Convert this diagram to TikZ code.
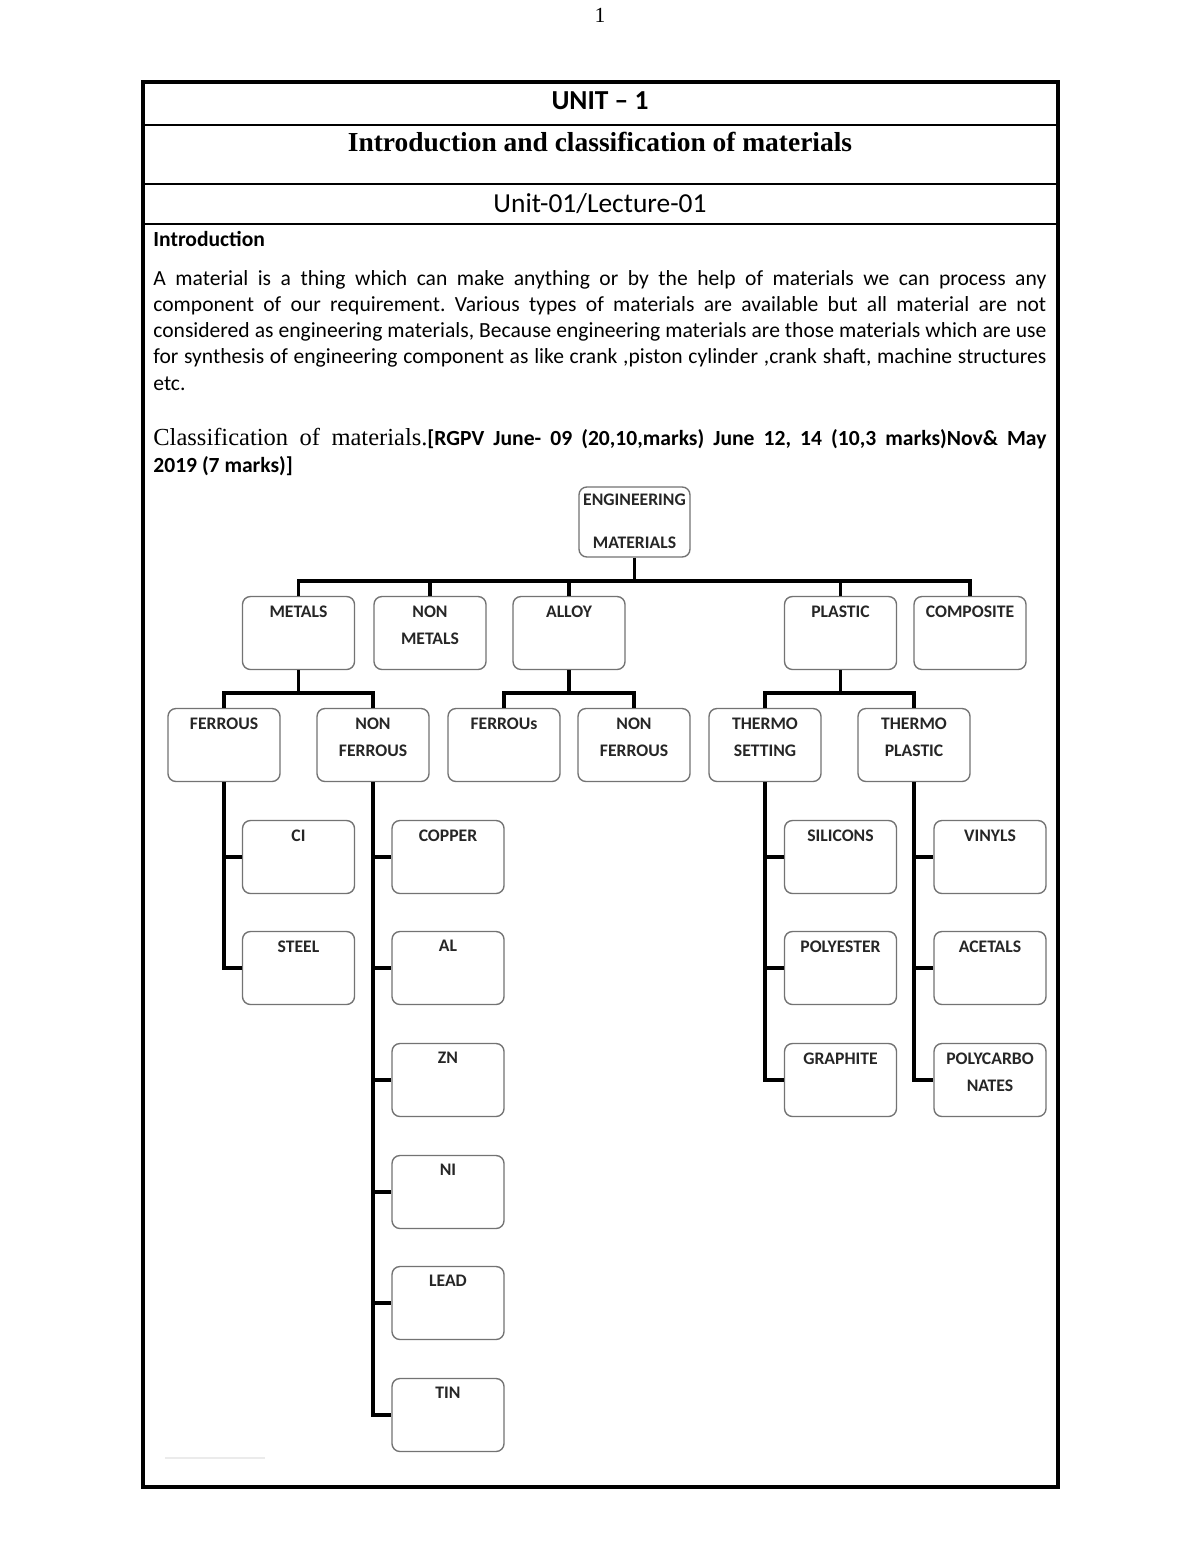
\documentclass[tikz,border=0pt]{standalone}
\usepackage{fontspec}
\setmainfont{Carlito}
\newfontfamily\serifhead{Liberation Serif}
\usetikzlibrary{positioning}
\frenchspacing

\tikzset{
  box/.style={draw=black!55, line width=0.7pt, rounded corners=4pt,
    minimum width=57.1pt, minimum height=37.2pt, inner sep=0pt},
  lbl/.style={anchor=north, inner sep=0pt, yshift=-4.7pt, align=center,
    font=\bfseries\fontsize{9}{13.8}\selectfont, text=black!85},
  mbox/.style={box, label={[lbl]north:{#1}}},
  conn/.style={line width=2pt},
  plain/.style={inner sep=0pt}
}

\begin{document}
\begin{tikzpicture}[x=0.51pt, y=-0.51pt]
\useasboundingbox (0,0) rectangle (1200,1553);
\fill[white] (0,0) rectangle (1200,1553);

% page number
\node[plain, anchor=base, font=\serifhead\fontsize{11}{13}\selectfont] (pagenum) at (600,23) {1};

% heading table
\draw[line width=1.6pt] (143,82) rectangle (1058,1487);
\draw[line width=0.8pt] (143,125) -- (1058,125) (143,184) -- (1058,184) (143,224) -- (1058,224);
\node[plain, anchor=base, font=\bfseries\fontsize{14}{16}\selectfont] (unit) at (600,110) {UNIT -- 1};
\node[plain, anchor=base, font=\serifhead\bfseries\fontsize{14}{16}\selectfont] (title) at (600,152) {Introduction and classification of materials};
\node[plain, anchor=base, font=\fontsize{14}{16}\selectfont] (lecture) at (600,213) {Unit-01/Lecture-01};

% text
\node[plain, anchor=base west, font=\bfseries\fontsize{11}{13.4}\selectfont] (introhead) at (153,246) {Introduction};
\node[plain, anchor=base west, text width=455.4pt, align=justify, font=\fontsize{11}{13.4}\selectfont] (intro) at (153,285)
{A material is a thing which can make anything or by the help of materials we can process any\linebreak
component of our requirement. Various types of materials are available but all material are not\linebreak
considered as engineering materials, Because engineering materials are those materials which are use\linebreak
for synthesis of engineering component as like crank ,piston cylinder ,crank shaft, machine structures\linebreak
etc.};
\node[plain, anchor=base west, text width=455.4pt, align=justify, font=\fontsize{11}{13.8}\selectfont] (classif) at (153,445)
{{\serifhead\fontsize{12.5}{13.8}\selectfont Classification of materials.}\textbf{[RGPV June- 09 (20,10,marks) June 12, 14 (10,3 marks)Nov\& May\linebreak
2019 (7 marks)]}};

% tree
\node[box, minimum width=56.6pt, minimum height=35.7pt,
  label={[lbl, yshift=1pt]north:{ENGINEERING\\[8.1pt]MATERIALS}}] (eng) at (634.5,522) {};

\node[mbox=METALS] (metals) at (298.5,633) {};
\node[mbox={NON\\METALS}] (nonmetals) at (430,633) {};
\node[mbox=ALLOY] (alloy) at (569,633) {};
\node[mbox=PLASTIC] (plastic) at (840.5,633) {};
\node[mbox=COMPOSITE] (composite) at (970,633) {};

\node[mbox=FERROUS] (ferrous) at (224,745) {};
\node[mbox={NON\\FERROUS}] (nferrous) at (373,745) {};
\node[mbox=FERROUs] (aferrous) at (504,745) {};
\node[mbox={NON\\FERROUS}] (anferrous) at (634,745) {};
\node[mbox={THERMO\\SETTING}] (tset) at (765,745) {};
\node[mbox={THERMO\\PLASTIC}] (tplast) at (914,745) {};

\node[mbox=CI] (ci) at (298.5,857) {};
\node[mbox=STEEL] (steel) at (298.5,968) {};
\foreach \n/\t/\y in {copper/COPPER/857, al/AL/968, zn/ZN/1080, ni/NI/1192, lead/LEAD/1303, tin/TIN/1415}
  \node[mbox=\t] (\n) at (448,\y) {};
\foreach \n/\t/\y in {silicons/SILICONS/857, polyester/POLYESTER/968, graphite/GRAPHITE/1080}
  \node[mbox=\t] (\n) at (840.5,\y) {};
\node[mbox=VINYLS] (vinyls) at (990,857) {};
\node[mbox=ACETALS] (acetals) at (990,968) {};
\node[mbox={POLYCARBO\\NATES}] (polycarb) at (990,1080) {};

% connectors
\coordinate (bus) at (0,581);
\coordinate (subbus) at (0,693);
\draw[conn] (eng.south) -- (eng.south |- bus);
\draw[conn] (metals.north) -- (metals.north |- bus) -- (composite.north |- bus) -- (composite.north);
\foreach \n in {nonmetals, alloy, plastic}
  \draw[conn] (\n.north) -- (\n.north |- bus);

\draw[conn] (metals.south) -- (metals.south |- subbus);
\draw[conn] (ferrous.north) -- (ferrous.north |- subbus) -- (nferrous.north |- subbus) -- (nferrous.north);
\draw[conn] (alloy.south) -- (alloy.south |- subbus);
\draw[conn] (aferrous.north) -- (aferrous.north |- subbus) -- (anferrous.north |- subbus) -- (anferrous.north);
\draw[conn] (plastic.south) -- (plastic.south |- subbus);
\draw[conn] (tset.north) -- (tset.north |- subbus) -- (tplast.north |- subbus) -- (tplast.north);

\draw[conn] (ferrous.south) |- (steel.west);
\draw[conn] (ferrous.south |- ci.west) -- (ci.west);
\draw[conn] (nferrous.south) |- (tin.west);
\foreach \n in {copper, al, zn, ni, lead}
  \draw[conn] (nferrous.south |- \n.west) -- (\n.west);
\draw[conn] (tset.south) |- (graphite.west);
\foreach \n in {silicons, polyester}
  \draw[conn] (tset.south |- \n.west) -- (\n.west);
\draw[conn] (tplast.south) |- (polycarb.west);
\foreach \n in {vinyls, acetals}
  \draw[conn] (tplast.south |- \n.west) -- (\n.west);

% faint mark
\draw[black!8, line width=0.6pt] (165,1458) -- (265,1458);
\end{tikzpicture}
\end{document}
